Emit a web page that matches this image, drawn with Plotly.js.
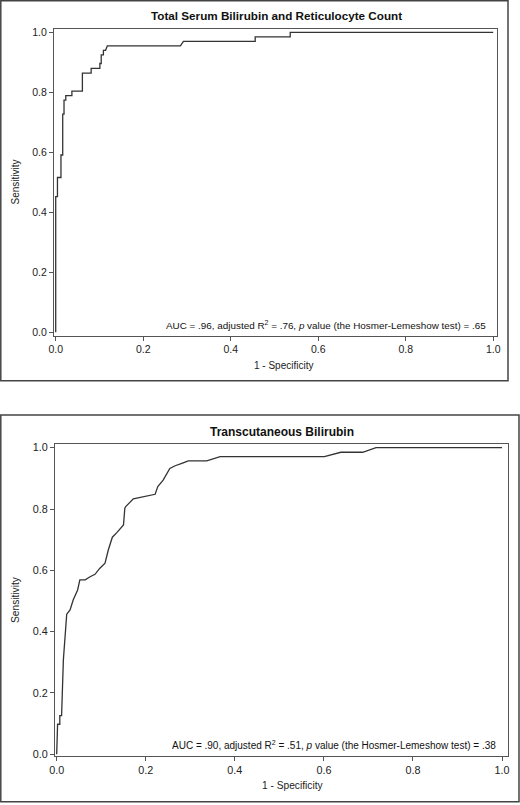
<!DOCTYPE html>
<html>
<head>
<meta charset="utf-8">
<script src="https://cdn.plot.ly/plotly-3.0.1.min.js"></script>
<style>html,body{margin:0;padding:0;background:#fff;}#chart{width:520px;height:805px;}</style>
</head>
<body>
<div id="chart"></div>
<script>
// Top panel: Total Serum Bilirubin and Reticulocyte Count (ROC)
var tsbFpr = [0, 0, 0.004, 0.004, 0.012, 0.012, 0.016, 0.016, 0.019, 0.019, 0.023, 0.023, 0.037, 0.037, 0.061, 0.061, 0.081, 0.081, 0.101, 0.101, 0.104, 0.104, 0.109, 0.109, 0.114, 0.118, 0.285, 0.292, 0.456, 0.456, 0.536, 0.536, 1.0];
var tsbTpr = [0, 0.452, 0.452, 0.516, 0.516, 0.591, 0.591, 0.727, 0.727, 0.774, 0.774, 0.789, 0.789, 0.804, 0.804, 0.864, 0.864, 0.880, 0.880, 0.896, 0.896, 0.925, 0.925, 0.940, 0.940, 0.955, 0.955, 0.970, 0.970, 0.985, 0.985, 1.0, 1.0];

// Bottom panel: Transcutaneous Bilirubin (ROC)
var tcbFpr = [0, 0.002, 0.007, 0.007, 0.011, 0.015, 0.0225, 0.030, 0.037, 0.047, 0.052, 0.064, 0.075, 0.086, 0.097, 0.1085, 0.116, 0.125, 0.135, 0.150, 0.153, 0.155, 0.172, 0.221, 0.227, 0.234, 0.239, 0.254, 0.266, 0.281, 0.2955, 0.337, 0.367, 0.601, 0.638, 0.687, 0.717, 1.0];
var tcbTpr = [0, 0.098, 0.098, 0.126, 0.126, 0.308, 0.457, 0.471, 0.503, 0.536, 0.569, 0.569, 0.579, 0.587, 0.607, 0.623, 0.667, 0.708, 0.723, 0.748, 0.803, 0.808, 0.833, 0.848, 0.873, 0.884, 0.894, 0.932, 0.941, 0.949, 0.957, 0.957, 0.971, 0.971, 0.985, 0.985, 1.0, 1.0];

var tickVals = [0, 0.2, 0.4, 0.6, 0.8, 1.0];
var tickText = ['0.0', '0.2', '0.4', '0.6', '0.8', '1.0'];

var titles = ['Total Serum Bilirubin and Reticulocyte Count', 'Transcutaneous Bilirubin'];
var statsText = [
  'AUC = .96, adjusted R<sup>2</sup> = .76, <i>p</i> value (the Hosmer-Lemeshow test) = .65',
  'AUC = .90, adjusted R<sup>2</sup> = .51, <i>p</i> value (the Hosmer-Lemeshow test) = .38'
];
var xTitle = '1 - Specificity';
var yTitle = 'Sensitivity';

var W = 520, H = 805;
function px(x){ return x / W; }
function py(y){ return 1 - y / H; }

var FONT = 'Liberation Sans, Arial, sans-serif';
var lineCol = '#333333';
var frameCol = '#555555';

function axisBase(fs){
  return {
    showgrid: false, zeroline: false, showline: true, mirror: true,
    linecolor: frameCol, linewidth: 1,
    ticks: 'outside', ticklen: 4, tickwidth: 1, tickcolor: frameCol,
    tickvals: tickVals, ticktext: tickText,
    tickfont: {family: FONT, size: fs, color: '#222'},
    fixedrange: true
  };
}

var traces = [
  {x: tsbFpr, y: tsbTpr, type: 'scatter', mode: 'lines', xaxis: 'x', yaxis: 'y',
   line: {color: lineCol, width: 1.3}, hoverinfo: 'skip', showlegend: false},
  {x: tcbFpr, y: tcbTpr, type: 'scatter', mode: 'lines', xaxis: 'x2', yaxis: 'y2',
   line: {color: lineCol, width: 1.3}, hoverinfo: 'skip', showlegend: false}
];

var layout = {
  width: W, height: H,
  margin: {l: 0, r: 0, t: 0, b: 0},
  paper_bgcolor: '#fff', plot_bgcolor: '#fff',
  showlegend: false,
  xaxis: Object.assign(axisBase(10.5), {domain: [px(54), px(496.7)], range: [-0.0039, 1.008], anchor: 'y'}),
  yaxis: Object.assign(axisBase(10.5), {domain: [py(335.7), py(29.3)], range: [-0.0113, 1.01], anchor: 'x'}),
  xaxis2: Object.assign(axisBase(10.8), {domain: [px(55), px(508.3)], range: [-0.0038, 1.014], anchor: 'y2'}),
  yaxis2: Object.assign(axisBase(10.8), {domain: [py(756), py(444.3)], range: [-0.0055, 1.011], anchor: 'x2'}),
  shapes: [
    {type: 'rect', xref: 'paper', yref: 'paper', x0: px(0.8), x1: px(508), y0: py(380.7), y1: py(0.8),
     line: {color: '#444', width: 1.5}},
    {type: 'rect', xref: 'paper', yref: 'paper', x0: px(0.8), x1: px(519), y0: py(801.7), y1: py(415),
     line: {color: '#444', width: 1.5}}
  ],
  annotations: [
    {text: '<b>' + titles[0] + '</b>', xref: 'paper', yref: 'paper', x: px(276), y: py(15),
     xanchor: 'center', yanchor: 'middle', showarrow: false, font: {family: FONT, size: 11.7, color: '#111'}},
    {text: '<b>' + titles[1] + '</b>', xref: 'paper', yref: 'paper', x: px(281.6), y: py(431.7),
     xanchor: 'center', yanchor: 'middle', showarrow: false, font: {family: FONT, size: 12, color: '#111'}},
    {text: statsText[0], xref: 'paper', yref: 'paper', x: px(488), y: py(325),
     xanchor: 'right', yanchor: 'middle', showarrow: false, font: {family: FONT, size: 9.9, color: '#111'}},
    {text: statsText[1], xref: 'paper', yref: 'paper', x: px(498.3), y: py(745.3),
     xanchor: 'right', yanchor: 'middle', showarrow: false, font: {family: FONT, size: 10, color: '#111'}},
    {text: xTitle, xref: 'paper', yref: 'paper', x: px(283), y: py(365),
     xanchor: 'center', yanchor: 'middle', showarrow: false, font: {family: FONT, size: 10, color: '#222'}},
    {text: xTitle, xref: 'paper', yref: 'paper', x: px(292), y: py(785.7),
     xanchor: 'center', yanchor: 'middle', showarrow: false, font: {family: FONT, size: 10.2, color: '#222'}},
    {text: yTitle, xref: 'paper', yref: 'paper', x: px(15), y: py(182.5), textangle: -90,
     xanchor: 'center', yanchor: 'middle', showarrow: false, font: {family: FONT, size: 10, color: '#222'}},
    {text: yTitle, xref: 'paper', yref: 'paper', x: px(15), y: py(600), textangle: -90,
     xanchor: 'center', yanchor: 'middle', showarrow: false, font: {family: FONT, size: 10.2, color: '#222'}}
  ]
};

Plotly.newPlot('chart', traces, layout, {displayModeBar: false, staticPlot: true});
</script>
</body>
</html>
